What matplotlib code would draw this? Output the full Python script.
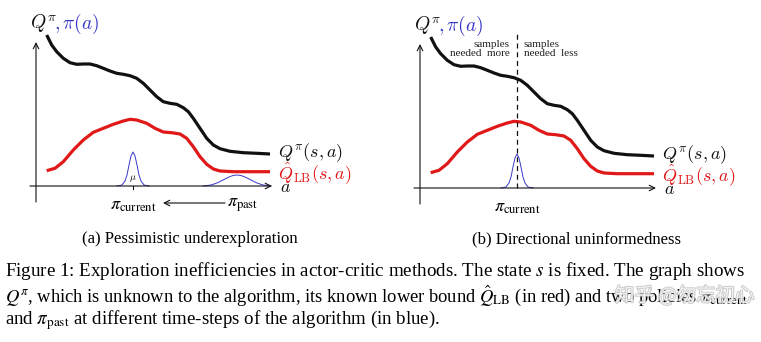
import matplotlib
matplotlib.use('Agg')
import matplotlib.pyplot as plt
import matplotlib.patheffects as pe

# figure size in pixels (1 data unit = 1 pixel inside the panels)
W, H = 761, 342

# Q^pi(s,a) curve: action position and value
q_act = [10.7, 15.7, 20.7, 27.3, 34, 40.7, 47.3, 54, 60.7, 67.3, 74, 80.7,
         87.3, 94, 100.7, 107.3, 114, 120.7, 127.3, 134, 140.7, 147.3, 152.3,
         157.3, 164, 170.7, 177.3, 184, 194, 207.3, 220.7, 234]
q_val = [151, 141, 134.3, 127.7, 123.3, 121.7, 122, 122, 120.3, 117.7, 115,
         112.7, 111.7, 110.3, 107.7, 102.7, 96, 89.3, 84.3, 82.7, 81.7, 78.3,
         74.3, 67.7, 57.7, 47.7, 41, 37.3, 34.7, 33.3, 32.7, 32]

# lower bound Q_LB(s,a)
lb_act = [10.7, 19, 27.3, 37.3, 47.3, 57.3, 67.3, 77.3, 87.3, 94, 100.7,
          110.7, 119, 127.3, 135.7, 144, 150.7, 157.3, 164, 170.7, 177.3,
          184, 197.3, 234]
lb_val = [15.3, 17.7, 24.3, 36, 46, 53.7, 57.7, 61.7, 65, 66.7, 66, 62.7,
          57.7, 54, 53.3, 52, 47.7, 39.3, 29.3, 21.7, 17, 15, 14.3, 14.3]

# policies (blue bumps): offsets from the mean and density height
mu_cur = 97
pi_cur_off = [-16, -11, -8, -6, -4, -2, 0, 2, 4, 6, 8, 11, 16]
pi_cur_val = [0, 1, 5, 11, 21, 30, 34, 30, 21, 11, 5, 1, 0]
mu_past = 201
pi_past_off = [-34, -26, -20, -14, -8, -4, 0, 4, 8, 14, 20, 26, 34]
pi_past_val = [0, 1, 3, 6, 9, 10.5, 11, 10.5, 9, 6, 3, 1, 0]

BLACK = '#111111'
RED = '#e01818'
BLUE = '#3838c8'

plt.rcParams['font.family'] = ['Liberation Serif', 'DejaVu Serif']
plt.rcParams['mathtext.fontset'] = 'cm'

fig = plt.figure(figsize=(W / 100, H / 100), dpi=100)


def panel(left, x0, y0):
    # x0, y0: pixel position of the origin inside the 380x230 panel box
    ax = fig.add_axes([left / W, (H - 230) / H, 380 / W, 230 / H])
    ax.set_xlim(-x0, 380 - x0)
    ax.set_ylim(y0 - 230, y0)
    ax.axis('off')

    # axes with arrows
    ax.annotate('', xy=(0, 144), xytext=(0, -16),
                arrowprops=dict(arrowstyle='->', lw=0.8, color=BLACK,
                                shrinkA=0, shrinkB=0))
    ax.annotate('', xy=(236, 0), xytext=(-6, 0),
                arrowprops=dict(arrowstyle='->', lw=0.8, color=BLACK,
                                shrinkA=0, shrinkB=0))

    ax.plot(q_act, q_val, color=BLACK, lw=2.3, solid_capstyle='butt',
            solid_joinstyle='round')
    ax.plot(lb_act, lb_val, color=RED, lw=2.3, solid_capstyle='butt',
            solid_joinstyle='round')
    ax.plot([mu_cur + d for d in pi_cur_off], pi_cur_val, color=BLUE, lw=0.7)

    # labels
    ax.text(-6, 157, r'$Q^{\pi}$', fontsize=14, color=BLACK, va='baseline')
    ax.text(17.5, 157, r'$,\pi(a)$', fontsize=14, color=BLUE, va='baseline')
    ax.text(242, 33, r'$Q^{\pi}(s,a)$', fontsize=13, color=BLACK, va='center')
    ax.text(242, 13, r'$\hat{Q}_{\rm LB}(s,a)$', fontsize=13, color=RED,
            va='center')
    ax.text(244, -2, r'$a$', fontsize=13, color=BLACK, va='center')
    ax.text(mu_cur, -19, r'$\pi_{\mathrm{current}}$', fontsize=13,
            math_fontfamily='stix', ha='center', va='center')
    return ax


# (a) pessimistic underexploration
ax1 = panel(0, 36, 186)
ax1.plot([mu_past + d for d in pi_past_off], pi_past_val, color=BLUE, lw=0.7)
ax1.plot([mu_cur, mu_cur], [0, -3], color=BLACK, lw=0.8)
ax1.text(mu_cur, 8, r'$\mu$', fontsize=7, ha='center', va='center')
ax1.annotate('', xy=(127, -17), xytext=(189, -17),
             arrowprops=dict(arrowstyle='->', lw=0.8, color=BLACK,
                             shrinkA=0, shrinkB=0))
ax1.text(207, -19, r'$\pi_{\mathrm{past}}$', fontsize=13,
         math_fontfamily='stix', ha='center', va='center')

# (b) directional uninformedness
ax2 = panel(380, 40, 188)
ax2.plot([mu_cur, mu_cur], [0, 156], color=BLACK, lw=0.9, ls=(0, (4, 3)))
ax2.text(90, 139, 'samples\nneeded  more', fontsize=8, ha='right',
         va='center', linespacing=0.95, color='#222222')
ax2.text(104, 139, 'samples\nneeded  less', fontsize=8, ha='left',
         va='center', linespacing=0.95, color='#222222')

# sub captions
fig.text(190 / W, 1 - 239 / H, '(a) Pessimistic underexploration',
         fontsize=12, ha='center', va='center')
fig.text(576 / W, 1 - 239 / H, '(b) Directional uninformedness',
         fontsize=12, ha='center', va='center')

# figure caption
cap = [
    r'Figure 1: Exploration inefficiencies in actor-critic methods. The state $s$ is fixed. The graph shows',
    r'$Q^{\pi}$, which is unknown to the algorithm, its known lower bound $\hat{Q}_{\mathrm{LB}}$ (in red) and two policies $\pi_{\mathrm{current}}$',
    r'and $\pi_{\mathrm{past}}$ at different time-steps of the algorithm (in blue).',
]
cap_size = [13.7, 13.3, 13.6]
for i, line in enumerate(cap):
    fig.text(5 / W, 1 - (271 + 24.5 * i) / H, line, fontsize=cap_size[i],
             math_fontfamily='stix', ha='left', va='center')

# watermark (semi transparent, caption shows through)
fig.text(685 / W, 1 - 296 / H, '知乎 @勿忘初心', fontsize=14,
         family=['Noto Sans CJK SC', 'DejaVu Sans'], color='white',
         alpha=0.75, ha='center', va='center',
         path_effects=[pe.withStroke(linewidth=1.3, foreground='#b8b8b8')])

fig.savefig('out.png', dpi=100)
